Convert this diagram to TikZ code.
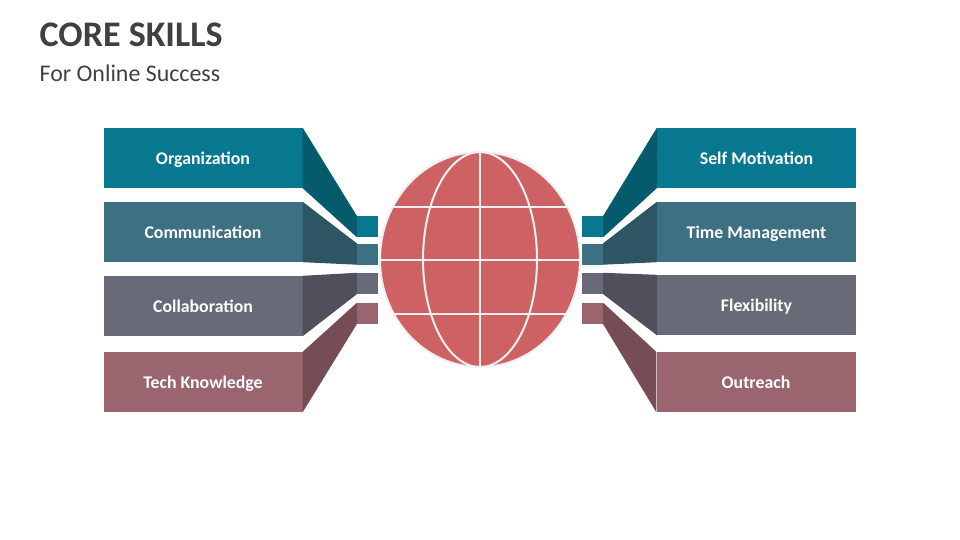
\documentclass[tikz,border=0pt]{standalone}
\usepackage{fontspec}
\setmainfont{Carlito}
\usetikzlibrary{positioning}
\definecolor{tealbox}{HTML}{07788F}
\definecolor{tealside}{HTML}{055A6B}
\definecolor{steelbox}{HTML}{3D7083}
\definecolor{steelside}{HTML}{2E5563}
\definecolor{slatebox}{HTML}{696A78}
\definecolor{slateside}{HTML}{50505C}
\definecolor{rosebox}{HTML}{9A656F}
\definecolor{roseside}{HTML}{764D55}
\definecolor{globered}{HTML}{CD6164}
\definecolor{titlegray}{HTML}{404040}
\tikzset{
  skillbox/.style={minimum width=199pt,minimum height=60pt,inner sep=0pt,text height=14pt,text depth=1.5pt,text=white,font=\fontsize{17.8}{20}\selectfont\bfseries},
  tabbox/.style={minimum width=21pt,minimum height=21pt,inner sep=0pt},
  globeline/.style={draw=white!94!black,line width=2pt}
}
\begin{document}
\begin{tikzpicture}[x=1pt,y=-1pt]
  \useasboundingbox (0,0) rectangle (960,540);
  \node[anchor=west,inner sep=0pt,text=titlegray,font=\fontsize{36}{40}\selectfont\bfseries] (title) at (39.5,35) {CORE SKILLS};
  \node[anchor=west,inner sep=0pt,text=titlegray,font=\fontsize{23.9}{28}\selectfont] (subtitle) at (39.5,73) {For Online Success};
  % left side
  \node[skillbox,fill=tealbox] (org) at (203,158) {Organization};
  \node[skillbox,fill=steelbox] (com) at (203,232) {Communication};
  \node[skillbox,fill=slatebox] (col) at (203,306) {Collaboration};
  \node[skillbox,fill=rosebox] (tech) at (203,382) {Tech Knowledge};
  \node[tabbox,fill=tealbox] (orgtab) at (367.5,226.5) {};
  \node[tabbox,fill=steelbox] (comtab) at (367.5,254) {};
  \node[tabbox,fill=slatebox] (coltab) at (367.5,283.5) {};
  \node[tabbox,fill=rosebox] (techtab) at (367.5,313.5) {};
  \fill[tealside] (org.north east) -- (orgtab.north west) -- (orgtab.south west) -- (org.south east) -- cycle;
  \fill[steelside] (com.north east) -- (comtab.north west) -- (comtab.south west) -- (com.south east) -- cycle;
  \fill[slateside] (col.north east) -- (coltab.north west) -- (coltab.south west) -- (col.south east) -- cycle;
  \fill[roseside] (tech.north east) -- (techtab.north west) -- (techtab.south west) -- (tech.south east) -- cycle;
  % right side
  \node[skillbox,fill=tealbox] (self) at (756.5,158) {Self Motivation};
  \node[skillbox,fill=steelbox] (time) at (756.5,232) {Time Management};
  \node[skillbox,fill=slatebox] (flex) at (756.5,305) {Flexibility};
  \node[skillbox,fill=rosebox] (out) at (756,382) {Outreach};
  \node[tabbox,fill=tealbox] (selftab) at (592.5,226.5) {};
  \node[tabbox,fill=steelbox] (timetab) at (592.5,254) {};
  \node[tabbox,fill=slatebox] (flextab) at (592.5,283.5) {};
  \node[tabbox,fill=rosebox] (outtab) at (592.5,313.5) {};
  \fill[tealside] (self.north west) -- (selftab.north east) -- (selftab.south east) -- (self.south west) -- cycle;
  \fill[steelside] (time.north west) -- (timetab.north east) -- (timetab.south east) -- (time.south west) -- cycle;
  \fill[slateside] (flex.north west) -- (flextab.north east) -- (flextab.south east) -- (flex.south west) -- cycle;
  \fill[roseside] (out.north west) -- (outtab.north east) -- (outtab.south east) -- (out.south west) -- cycle;
  % globe
  \fill[globered] (480,259.5) ellipse [x radius=100,y radius=107.5];
  \begin{scope}
    \clip (480,259.5) ellipse [x radius=100,y radius=107.5];
    \draw[globeline] (370,207) -- (590,207);
    \draw[globeline] (370,260) -- (590,260);
    \draw[globeline] (370,314) -- (590,314);
  \end{scope}
  \draw[globeline] (480,152) -- (480,367);
  \draw[globeline] (480,259.5) ellipse [x radius=57,y radius=107.5];
  \draw[globeline] (480,259.5) ellipse [x radius=100,y radius=107.5];
\end{tikzpicture}
\end{document}
